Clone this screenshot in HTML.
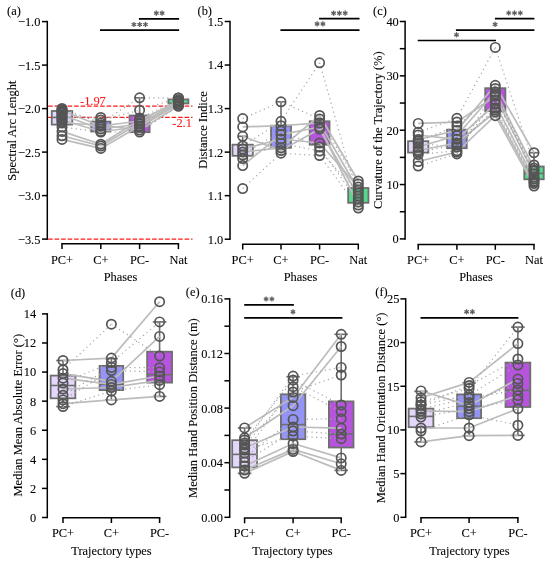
<!DOCTYPE html>
<html><head><meta charset="utf-8"><style>
html,body{margin:0;padding:0;background:#fff;}
svg{display:block;filter:blur(0.3px);}
text{font-family:"Liberation Serif", serif; stroke:#000; stroke-width:0.08px;}
</style></head><body>
<svg width="550" height="564" viewBox="0 0 550 564">
<rect width="550" height="564" fill="#fff"/>
<text x="7.00" y="15.00" font-size="12.4" text-anchor="start" fill="#000" style="stroke:#000" >(a)</text>
<line x1="47.30" y1="20.85" x2="47.30" y2="239.85" stroke="#000" stroke-width="1.5" />
<line x1="42.00" y1="21.60" x2="47.30" y2="21.60" stroke="#000" stroke-width="1.5" />
<text x="40.40" y="26.00" font-size="12.4" text-anchor="end" fill="#000" style="stroke:#000" >−1.0</text>
<line x1="42.00" y1="65.10" x2="47.30" y2="65.10" stroke="#000" stroke-width="1.5" />
<text x="40.40" y="69.50" font-size="12.4" text-anchor="end" fill="#000" style="stroke:#000" >−1.5</text>
<line x1="42.00" y1="108.60" x2="47.30" y2="108.60" stroke="#000" stroke-width="1.5" />
<text x="40.40" y="113.00" font-size="12.4" text-anchor="end" fill="#000" style="stroke:#000" >−2.0</text>
<line x1="42.00" y1="152.10" x2="47.30" y2="152.10" stroke="#000" stroke-width="1.5" />
<text x="40.40" y="156.50" font-size="12.4" text-anchor="end" fill="#000" style="stroke:#000" >−2.5</text>
<line x1="42.00" y1="195.60" x2="47.30" y2="195.60" stroke="#000" stroke-width="1.5" />
<text x="40.40" y="200.00" font-size="12.4" text-anchor="end" fill="#000" style="stroke:#000" >−3.0</text>
<line x1="42.00" y1="239.10" x2="47.30" y2="239.10" stroke="#000" stroke-width="1.5" />
<text x="40.40" y="243.50" font-size="12.4" text-anchor="end" fill="#000" style="stroke:#000" >−3.5</text>
<text transform="translate(16.40,130.60) rotate(-90)" font-size="12.45" text-anchor="middle" fill="#000">Spectral Arc Lenght</text>
<line x1="61.25" y1="243.80" x2="179.15" y2="243.80" stroke="#000" stroke-width="1.5" />
<line x1="62.00" y1="243.80" x2="62.00" y2="249.10" stroke="#000" stroke-width="1.5" />
<text x="62.00" y="263.60" font-size="12.4" text-anchor="middle" fill="#000" style="stroke:#000" >PC+</text>
<line x1="100.80" y1="243.80" x2="100.80" y2="249.10" stroke="#000" stroke-width="1.5" />
<text x="100.80" y="263.60" font-size="12.4" text-anchor="middle" fill="#000" style="stroke:#000" >C+</text>
<line x1="139.60" y1="243.80" x2="139.60" y2="249.10" stroke="#000" stroke-width="1.5" />
<text x="139.60" y="263.60" font-size="12.4" text-anchor="middle" fill="#000" style="stroke:#000" >PC-</text>
<line x1="178.40" y1="243.80" x2="178.40" y2="249.10" stroke="#000" stroke-width="1.5" />
<text x="178.40" y="263.60" font-size="12.4" text-anchor="middle" fill="#000" style="stroke:#000" >Nat</text>
<text x="120.50" y="281.00" font-size="12.4" text-anchor="middle" fill="#000" style="stroke:#000" >Phases</text>
<line x1="48.10" y1="106.00" x2="192.50" y2="106.00" stroke="#ff1818" stroke-width="1.25" stroke-dasharray="4.6 1.9"/>
<line x1="48.10" y1="117.40" x2="192.50" y2="117.40" stroke="#ff1818" stroke-width="1.25" stroke-dasharray="4.6 1.9"/>
<line x1="48.10" y1="239.10" x2="192.50" y2="239.10" stroke="#ff1818" stroke-width="1.25" stroke-dasharray="4.6 1.9"/>
<rect x="51.75" y="111.00" width="20.50" height="13.60" fill="#e4d7fb" stroke="#6e6e6e" stroke-width="1.8"/>
<line x1="51.75" y1="117.40" x2="72.25" y2="117.40" stroke="#6e6e6e" stroke-width="1.6" />
<rect x="91.20" y="121.60" width="19.20" height="9.90" fill="#9494f8" stroke="#6e6e6e" stroke-width="1.8"/>
<line x1="139.60" y1="97.80" x2="139.60" y2="115.50" stroke="#6e6e6e" stroke-width="1.6" />
<line x1="134.60" y1="97.80" x2="144.60" y2="97.80" stroke="#6e6e6e" stroke-width="1.6" />
<rect x="129.60" y="115.50" width="20.00" height="16.70" fill="#b754de" stroke="#6e6e6e" stroke-width="1.8"/>
<rect x="168.40" y="99.40" width="20.00" height="4.10" fill="#55da8c" stroke="#6e6e6e" stroke-width="1.8"/>
<line x1="62.00" y1="108.50" x2="100.80" y2="123.00" stroke="#a6a6a6" stroke-width="1.2" stroke-dasharray="1.2 3.4"/>
<line x1="100.80" y1="123.00" x2="139.60" y2="97.80" stroke="#a6a6a6" stroke-width="1.2" stroke-dasharray="1.2 3.4"/>
<line x1="139.60" y1="97.80" x2="178.40" y2="98.00" stroke="#a6a6a6" stroke-width="1.2" stroke-dasharray="1.2 3.4"/>
<line x1="62.00" y1="110.50" x2="100.80" y2="126.00" stroke="#bcbcbc" stroke-width="1.7" />
<line x1="100.80" y1="126.00" x2="139.60" y2="121.00" stroke="#bcbcbc" stroke-width="1.7" />
<line x1="139.60" y1="121.00" x2="178.40" y2="101.00" stroke="#bcbcbc" stroke-width="1.7" />
<line x1="62.00" y1="112.50" x2="100.80" y2="120.00" stroke="#a6a6a6" stroke-width="1.2" stroke-dasharray="1.2 3.4"/>
<line x1="100.80" y1="120.00" x2="139.60" y2="110.20" stroke="#a6a6a6" stroke-width="1.2" stroke-dasharray="1.2 3.4"/>
<line x1="139.60" y1="110.20" x2="178.40" y2="98.00" stroke="#a6a6a6" stroke-width="1.2" stroke-dasharray="1.2 3.4"/>
<line x1="62.00" y1="115.00" x2="100.80" y2="129.00" stroke="#bcbcbc" stroke-width="1.7" />
<line x1="100.80" y1="129.00" x2="139.60" y2="124.00" stroke="#bcbcbc" stroke-width="1.7" />
<line x1="139.60" y1="124.00" x2="178.40" y2="102.00" stroke="#bcbcbc" stroke-width="1.7" />
<line x1="62.00" y1="117.50" x2="100.80" y2="117.50" stroke="#a6a6a6" stroke-width="1.2" stroke-dasharray="1.2 3.4"/>
<line x1="100.80" y1="117.50" x2="139.60" y2="118.00" stroke="#a6a6a6" stroke-width="1.2" stroke-dasharray="1.2 3.4"/>
<line x1="139.60" y1="118.00" x2="178.40" y2="100.00" stroke="#a6a6a6" stroke-width="1.2" stroke-dasharray="1.2 3.4"/>
<line x1="62.00" y1="120.00" x2="100.80" y2="131.50" stroke="#bcbcbc" stroke-width="1.7" />
<line x1="100.80" y1="131.50" x2="139.60" y2="127.00" stroke="#bcbcbc" stroke-width="1.7" />
<line x1="139.60" y1="127.00" x2="178.40" y2="104.00" stroke="#bcbcbc" stroke-width="1.7" />
<line x1="62.00" y1="123.00" x2="100.80" y2="125.00" stroke="#bcbcbc" stroke-width="1.7" />
<line x1="100.80" y1="125.00" x2="139.60" y2="130.00" stroke="#bcbcbc" stroke-width="1.7" />
<line x1="139.60" y1="130.00" x2="178.40" y2="106.00" stroke="#bcbcbc" stroke-width="1.7" />
<line x1="62.00" y1="127.00" x2="100.80" y2="132.00" stroke="#a6a6a6" stroke-width="1.2" stroke-dasharray="1.2 3.4"/>
<line x1="100.80" y1="132.00" x2="139.60" y2="132.00" stroke="#a6a6a6" stroke-width="1.2" stroke-dasharray="1.2 3.4"/>
<line x1="139.60" y1="132.00" x2="178.40" y2="106.00" stroke="#a6a6a6" stroke-width="1.2" stroke-dasharray="1.2 3.4"/>
<line x1="62.00" y1="131.40" x2="100.80" y2="144.20" stroke="#bcbcbc" stroke-width="1.7" />
<line x1="100.80" y1="144.20" x2="139.60" y2="120.00" stroke="#bcbcbc" stroke-width="1.7" />
<line x1="139.60" y1="120.00" x2="178.40" y2="102.00" stroke="#bcbcbc" stroke-width="1.7" />
<line x1="62.00" y1="135.80" x2="100.80" y2="146.00" stroke="#bcbcbc" stroke-width="1.7" />
<line x1="100.80" y1="146.00" x2="139.60" y2="123.00" stroke="#bcbcbc" stroke-width="1.7" />
<line x1="139.60" y1="123.00" x2="178.40" y2="104.00" stroke="#bcbcbc" stroke-width="1.7" />
<line x1="62.00" y1="139.40" x2="100.80" y2="148.40" stroke="#bcbcbc" stroke-width="1.7" />
<line x1="100.80" y1="148.40" x2="139.60" y2="126.00" stroke="#bcbcbc" stroke-width="1.7" />
<line x1="139.60" y1="126.00" x2="178.40" y2="104.00" stroke="#bcbcbc" stroke-width="1.7" />
<circle cx="62.00" cy="108.50" r="4.65" fill="none" stroke="#555555" stroke-width="1.7"/>
<circle cx="62.00" cy="110.50" r="4.65" fill="none" stroke="#555555" stroke-width="1.7"/>
<circle cx="62.00" cy="112.50" r="4.65" fill="none" stroke="#555555" stroke-width="1.7"/>
<circle cx="62.00" cy="115.00" r="4.65" fill="none" stroke="#555555" stroke-width="1.7"/>
<circle cx="62.00" cy="117.50" r="4.65" fill="none" stroke="#555555" stroke-width="1.7"/>
<circle cx="62.00" cy="120.00" r="4.65" fill="none" stroke="#555555" stroke-width="1.7"/>
<circle cx="62.00" cy="123.00" r="4.65" fill="none" stroke="#555555" stroke-width="1.7"/>
<circle cx="62.00" cy="127.00" r="4.65" fill="none" stroke="#555555" stroke-width="1.7"/>
<circle cx="62.00" cy="131.40" r="4.65" fill="none" stroke="#555555" stroke-width="1.7"/>
<circle cx="62.00" cy="135.80" r="4.65" fill="none" stroke="#555555" stroke-width="1.7"/>
<circle cx="62.00" cy="139.40" r="4.65" fill="none" stroke="#555555" stroke-width="1.7"/>
<circle cx="100.80" cy="123.00" r="4.65" fill="none" stroke="#555555" stroke-width="1.7"/>
<circle cx="100.80" cy="126.00" r="4.65" fill="none" stroke="#555555" stroke-width="1.7"/>
<circle cx="100.80" cy="120.00" r="4.65" fill="none" stroke="#555555" stroke-width="1.7"/>
<circle cx="100.80" cy="129.00" r="4.65" fill="none" stroke="#555555" stroke-width="1.7"/>
<circle cx="100.80" cy="117.50" r="4.65" fill="none" stroke="#555555" stroke-width="1.7"/>
<circle cx="100.80" cy="131.50" r="4.65" fill="none" stroke="#555555" stroke-width="1.7"/>
<circle cx="100.80" cy="125.00" r="4.65" fill="none" stroke="#555555" stroke-width="1.7"/>
<circle cx="100.80" cy="132.00" r="4.65" fill="none" stroke="#555555" stroke-width="1.7"/>
<circle cx="100.80" cy="144.20" r="4.65" fill="none" stroke="#555555" stroke-width="1.7"/>
<circle cx="100.80" cy="146.00" r="4.65" fill="none" stroke="#555555" stroke-width="1.7"/>
<circle cx="100.80" cy="148.40" r="4.65" fill="none" stroke="#555555" stroke-width="1.7"/>
<circle cx="139.60" cy="97.80" r="4.65" fill="none" stroke="#555555" stroke-width="1.7"/>
<circle cx="139.60" cy="121.00" r="4.65" fill="none" stroke="#555555" stroke-width="1.7"/>
<circle cx="139.60" cy="110.20" r="4.65" fill="none" stroke="#555555" stroke-width="1.7"/>
<circle cx="139.60" cy="124.00" r="4.65" fill="none" stroke="#555555" stroke-width="1.7"/>
<circle cx="139.60" cy="118.00" r="4.65" fill="none" stroke="#555555" stroke-width="1.7"/>
<circle cx="139.60" cy="127.00" r="4.65" fill="none" stroke="#555555" stroke-width="1.7"/>
<circle cx="139.60" cy="130.00" r="4.65" fill="none" stroke="#555555" stroke-width="1.7"/>
<circle cx="139.60" cy="132.00" r="4.65" fill="none" stroke="#555555" stroke-width="1.7"/>
<circle cx="139.60" cy="120.00" r="4.65" fill="none" stroke="#555555" stroke-width="1.7"/>
<circle cx="139.60" cy="123.00" r="4.65" fill="none" stroke="#555555" stroke-width="1.7"/>
<circle cx="139.60" cy="126.00" r="4.65" fill="none" stroke="#555555" stroke-width="1.7"/>
<circle cx="178.40" cy="98.00" r="4.65" fill="none" stroke="#555555" stroke-width="1.7"/>
<circle cx="178.40" cy="101.00" r="4.65" fill="none" stroke="#555555" stroke-width="1.7"/>
<circle cx="178.40" cy="98.00" r="4.65" fill="none" stroke="#555555" stroke-width="1.7"/>
<circle cx="178.40" cy="102.00" r="4.65" fill="none" stroke="#555555" stroke-width="1.7"/>
<circle cx="178.40" cy="100.00" r="4.65" fill="none" stroke="#555555" stroke-width="1.7"/>
<circle cx="178.40" cy="104.00" r="4.65" fill="none" stroke="#555555" stroke-width="1.7"/>
<circle cx="178.40" cy="106.00" r="4.65" fill="none" stroke="#555555" stroke-width="1.7"/>
<circle cx="178.40" cy="106.00" r="4.65" fill="none" stroke="#555555" stroke-width="1.7"/>
<circle cx="178.40" cy="102.00" r="4.65" fill="none" stroke="#555555" stroke-width="1.7"/>
<circle cx="178.40" cy="104.00" r="4.65" fill="none" stroke="#555555" stroke-width="1.7"/>
<circle cx="178.40" cy="104.00" r="4.65" fill="none" stroke="#555555" stroke-width="1.7"/>
<circle cx="62.00" cy="109.50" r="4.65" fill="none" stroke="#555555" stroke-width="1.7"/>
<circle cx="62.00" cy="111.50" r="4.65" fill="none" stroke="#555555" stroke-width="1.7"/>
<circle cx="62.00" cy="113.50" r="4.65" fill="none" stroke="#555555" stroke-width="1.7"/>
<circle cx="62.00" cy="116.00" r="4.65" fill="none" stroke="#555555" stroke-width="1.7"/>
<circle cx="62.00" cy="118.50" r="4.65" fill="none" stroke="#555555" stroke-width="1.7"/>
<circle cx="62.00" cy="121.50" r="4.65" fill="none" stroke="#555555" stroke-width="1.7"/>
<text x="80.00" y="105.00" font-size="12.4" text-anchor="start" fill="#ff1818" style="stroke:#ff1818" >-1.97</text>
<text x="172.30" y="126.60" font-size="12.4" text-anchor="start" fill="#ff1818" style="stroke:#ff1818" >-2.1</text>
<line x1="138.90" y1="18.90" x2="179.10" y2="18.90" stroke="#000" stroke-width="1.7" />
<line x1="156.30" y1="10.60" x2="156.30" y2="15.80" stroke="#5e5e5e" stroke-width="1.3" />
<line x1="154.05" y1="11.90" x2="158.55" y2="14.50" stroke="#5e5e5e" stroke-width="1.3" />
<line x1="158.55" y1="11.90" x2="154.05" y2="14.50" stroke="#5e5e5e" stroke-width="1.3" />
<line x1="162.10" y1="10.60" x2="162.10" y2="15.80" stroke="#5e5e5e" stroke-width="1.3" />
<line x1="159.85" y1="11.90" x2="164.35" y2="14.50" stroke="#5e5e5e" stroke-width="1.3" />
<line x1="164.35" y1="11.90" x2="159.85" y2="14.50" stroke="#5e5e5e" stroke-width="1.3" />
<line x1="100.00" y1="30.20" x2="179.10" y2="30.20" stroke="#000" stroke-width="1.7" />
<line x1="133.90" y1="21.90" x2="133.90" y2="27.10" stroke="#5e5e5e" stroke-width="1.3" />
<line x1="131.65" y1="23.20" x2="136.15" y2="25.80" stroke="#5e5e5e" stroke-width="1.3" />
<line x1="136.15" y1="23.20" x2="131.65" y2="25.80" stroke="#5e5e5e" stroke-width="1.3" />
<line x1="139.70" y1="21.90" x2="139.70" y2="27.10" stroke="#5e5e5e" stroke-width="1.3" />
<line x1="137.45" y1="23.20" x2="141.95" y2="25.80" stroke="#5e5e5e" stroke-width="1.3" />
<line x1="141.95" y1="23.20" x2="137.45" y2="25.80" stroke="#5e5e5e" stroke-width="1.3" />
<line x1="145.50" y1="21.90" x2="145.50" y2="27.10" stroke="#5e5e5e" stroke-width="1.3" />
<line x1="143.25" y1="23.20" x2="147.75" y2="25.80" stroke="#5e5e5e" stroke-width="1.3" />
<line x1="147.75" y1="23.20" x2="143.25" y2="25.80" stroke="#5e5e5e" stroke-width="1.3" />
<text x="197.50" y="15.00" font-size="12.4" text-anchor="start" fill="#000" style="stroke:#000" >(b)</text>
<line x1="230.00" y1="20.75" x2="230.00" y2="239.95" stroke="#000" stroke-width="1.5" />
<line x1="224.70" y1="239.20" x2="230.00" y2="239.20" stroke="#000" stroke-width="1.5" />
<text x="223.20" y="243.60" font-size="12.4" text-anchor="end" fill="#000" style="stroke:#000" >1.0</text>
<line x1="224.70" y1="195.66" x2="230.00" y2="195.66" stroke="#000" stroke-width="1.5" />
<text x="223.20" y="200.06" font-size="12.4" text-anchor="end" fill="#000" style="stroke:#000" >1.1</text>
<line x1="224.70" y1="152.12" x2="230.00" y2="152.12" stroke="#000" stroke-width="1.5" />
<text x="223.20" y="156.52" font-size="12.4" text-anchor="end" fill="#000" style="stroke:#000" >1.2</text>
<line x1="224.70" y1="108.58" x2="230.00" y2="108.58" stroke="#000" stroke-width="1.5" />
<text x="223.20" y="112.98" font-size="12.4" text-anchor="end" fill="#000" style="stroke:#000" >1.3</text>
<line x1="224.70" y1="65.04" x2="230.00" y2="65.04" stroke="#000" stroke-width="1.5" />
<text x="223.20" y="69.44" font-size="12.4" text-anchor="end" fill="#000" style="stroke:#000" >1.4</text>
<line x1="224.70" y1="21.50" x2="230.00" y2="21.50" stroke="#000" stroke-width="1.5" />
<text x="223.20" y="25.90" font-size="12.4" text-anchor="end" fill="#000" style="stroke:#000" >1.5</text>
<text transform="translate(206.60,130.00) rotate(-90)" font-size="12.45" text-anchor="middle" fill="#000">Distance Indice</text>
<line x1="241.95" y1="244.30" x2="359.05" y2="244.30" stroke="#000" stroke-width="1.5" />
<line x1="242.70" y1="244.30" x2="242.70" y2="249.60" stroke="#000" stroke-width="1.5" />
<text x="242.70" y="263.60" font-size="12.4" text-anchor="middle" fill="#000" style="stroke:#000" >PC+</text>
<line x1="281.00" y1="244.30" x2="281.00" y2="249.60" stroke="#000" stroke-width="1.5" />
<text x="281.00" y="263.60" font-size="12.4" text-anchor="middle" fill="#000" style="stroke:#000" >C+</text>
<line x1="319.60" y1="244.30" x2="319.60" y2="249.60" stroke="#000" stroke-width="1.5" />
<text x="319.60" y="263.60" font-size="12.4" text-anchor="middle" fill="#000" style="stroke:#000" >PC-</text>
<line x1="358.30" y1="244.30" x2="358.30" y2="249.60" stroke="#000" stroke-width="1.5" />
<text x="358.30" y="263.60" font-size="12.4" text-anchor="middle" fill="#000" style="stroke:#000" >Nat</text>
<text x="300.50" y="281.00" font-size="12.4" text-anchor="middle" fill="#000" style="stroke:#000" >Phases</text>
<line x1="242.70" y1="136.30" x2="242.70" y2="144.70" stroke="#6e6e6e" stroke-width="1.6" />
<line x1="237.70" y1="136.30" x2="247.70" y2="136.30" stroke="#6e6e6e" stroke-width="1.6" />
<rect x="232.50" y="144.70" width="20.40" height="11.10" fill="#e4d7fb" stroke="#6e6e6e" stroke-width="1.8"/>
<line x1="281.00" y1="101.80" x2="281.00" y2="125.70" stroke="#6e6e6e" stroke-width="1.6" />
<line x1="276.00" y1="101.80" x2="286.00" y2="101.80" stroke="#6e6e6e" stroke-width="1.6" />
<rect x="271.00" y="125.70" width="20.00" height="22.10" fill="#9494f8" stroke="#6e6e6e" stroke-width="1.8"/>
<rect x="309.70" y="121.30" width="19.80" height="23.40" fill="#b754de" stroke="#6e6e6e" stroke-width="1.8"/>
<rect x="348.15" y="188.00" width="20.30" height="14.80" fill="#55da8c" stroke="#6e6e6e" stroke-width="1.8"/>
<line x1="242.70" y1="118.60" x2="281.00" y2="101.80" stroke="#a6a6a6" stroke-width="1.2" stroke-dasharray="1.2 3.4"/>
<line x1="281.00" y1="101.80" x2="319.60" y2="119.00" stroke="#a6a6a6" stroke-width="1.2" stroke-dasharray="1.2 3.4"/>
<line x1="319.60" y1="119.00" x2="358.30" y2="184.00" stroke="#a6a6a6" stroke-width="1.2" stroke-dasharray="1.2 3.4"/>
<line x1="242.70" y1="126.90" x2="281.00" y2="125.70" stroke="#bcbcbc" stroke-width="1.7" />
<line x1="281.00" y1="125.70" x2="319.60" y2="123.00" stroke="#bcbcbc" stroke-width="1.7" />
<line x1="319.60" y1="123.00" x2="358.30" y2="190.00" stroke="#bcbcbc" stroke-width="1.7" />
<line x1="242.70" y1="136.30" x2="281.00" y2="150.50" stroke="#bcbcbc" stroke-width="1.7" />
<line x1="281.00" y1="150.50" x2="319.60" y2="129.00" stroke="#bcbcbc" stroke-width="1.7" />
<line x1="319.60" y1="129.00" x2="358.30" y2="196.00" stroke="#bcbcbc" stroke-width="1.7" />
<line x1="242.70" y1="146.00" x2="281.00" y2="121.30" stroke="#a6a6a6" stroke-width="1.2" stroke-dasharray="1.2 3.4"/>
<line x1="281.00" y1="121.30" x2="319.60" y2="62.80" stroke="#a6a6a6" stroke-width="1.2" stroke-dasharray="1.2 3.4"/>
<line x1="319.60" y1="62.80" x2="358.30" y2="199.00" stroke="#a6a6a6" stroke-width="1.2" stroke-dasharray="1.2 3.4"/>
<line x1="242.70" y1="149.00" x2="281.00" y2="139.00" stroke="#bcbcbc" stroke-width="1.7" />
<line x1="281.00" y1="139.00" x2="319.60" y2="143.00" stroke="#bcbcbc" stroke-width="1.7" />
<line x1="319.60" y1="143.00" x2="358.30" y2="187.00" stroke="#bcbcbc" stroke-width="1.7" />
<line x1="242.70" y1="152.00" x2="281.00" y2="147.80" stroke="#bcbcbc" stroke-width="1.7" />
<line x1="281.00" y1="147.80" x2="319.60" y2="115.50" stroke="#bcbcbc" stroke-width="1.7" />
<line x1="319.60" y1="115.50" x2="358.30" y2="181.00" stroke="#bcbcbc" stroke-width="1.7" />
<line x1="242.70" y1="155.00" x2="281.00" y2="131.00" stroke="#a6a6a6" stroke-width="1.2" stroke-dasharray="1.2 3.4"/>
<line x1="281.00" y1="131.00" x2="319.60" y2="147.00" stroke="#a6a6a6" stroke-width="1.2" stroke-dasharray="1.2 3.4"/>
<line x1="319.60" y1="147.00" x2="358.30" y2="202.00" stroke="#a6a6a6" stroke-width="1.2" stroke-dasharray="1.2 3.4"/>
<line x1="242.70" y1="158.50" x2="281.00" y2="143.40" stroke="#a6a6a6" stroke-width="1.2" stroke-dasharray="1.2 3.4"/>
<line x1="281.00" y1="143.40" x2="319.60" y2="151.00" stroke="#a6a6a6" stroke-width="1.2" stroke-dasharray="1.2 3.4"/>
<line x1="319.60" y1="151.00" x2="358.30" y2="193.00" stroke="#a6a6a6" stroke-width="1.2" stroke-dasharray="1.2 3.4"/>
<line x1="242.70" y1="165.60" x2="281.00" y2="134.60" stroke="#bcbcbc" stroke-width="1.7" />
<line x1="281.00" y1="134.60" x2="319.60" y2="127.00" stroke="#bcbcbc" stroke-width="1.7" />
<line x1="319.60" y1="127.00" x2="358.30" y2="205.00" stroke="#bcbcbc" stroke-width="1.7" />
<line x1="242.70" y1="188.60" x2="281.00" y2="153.20" stroke="#a6a6a6" stroke-width="1.2" stroke-dasharray="1.2 3.4"/>
<line x1="281.00" y1="153.20" x2="319.60" y2="155.50" stroke="#a6a6a6" stroke-width="1.2" stroke-dasharray="1.2 3.4"/>
<line x1="319.60" y1="155.50" x2="358.30" y2="208.00" stroke="#a6a6a6" stroke-width="1.2" stroke-dasharray="1.2 3.4"/>
<circle cx="242.70" cy="118.60" r="4.65" fill="none" stroke="#555555" stroke-width="1.7"/>
<circle cx="242.70" cy="126.90" r="4.65" fill="none" stroke="#555555" stroke-width="1.7"/>
<circle cx="242.70" cy="136.30" r="4.65" fill="none" stroke="#555555" stroke-width="1.7"/>
<circle cx="242.70" cy="146.00" r="4.65" fill="none" stroke="#555555" stroke-width="1.7"/>
<circle cx="242.70" cy="149.00" r="4.65" fill="none" stroke="#555555" stroke-width="1.7"/>
<circle cx="242.70" cy="152.00" r="4.65" fill="none" stroke="#555555" stroke-width="1.7"/>
<circle cx="242.70" cy="155.00" r="4.65" fill="none" stroke="#555555" stroke-width="1.7"/>
<circle cx="242.70" cy="158.50" r="4.65" fill="none" stroke="#555555" stroke-width="1.7"/>
<circle cx="242.70" cy="165.60" r="4.65" fill="none" stroke="#555555" stroke-width="1.7"/>
<circle cx="242.70" cy="188.60" r="4.65" fill="none" stroke="#555555" stroke-width="1.7"/>
<circle cx="281.00" cy="101.80" r="4.65" fill="none" stroke="#555555" stroke-width="1.7"/>
<circle cx="281.00" cy="125.70" r="4.65" fill="none" stroke="#555555" stroke-width="1.7"/>
<circle cx="281.00" cy="150.50" r="4.65" fill="none" stroke="#555555" stroke-width="1.7"/>
<circle cx="281.00" cy="121.30" r="4.65" fill="none" stroke="#555555" stroke-width="1.7"/>
<circle cx="281.00" cy="139.00" r="4.65" fill="none" stroke="#555555" stroke-width="1.7"/>
<circle cx="281.00" cy="147.80" r="4.65" fill="none" stroke="#555555" stroke-width="1.7"/>
<circle cx="281.00" cy="131.00" r="4.65" fill="none" stroke="#555555" stroke-width="1.7"/>
<circle cx="281.00" cy="143.40" r="4.65" fill="none" stroke="#555555" stroke-width="1.7"/>
<circle cx="281.00" cy="134.60" r="4.65" fill="none" stroke="#555555" stroke-width="1.7"/>
<circle cx="281.00" cy="153.20" r="4.65" fill="none" stroke="#555555" stroke-width="1.7"/>
<circle cx="319.60" cy="119.00" r="4.65" fill="none" stroke="#555555" stroke-width="1.7"/>
<circle cx="319.60" cy="123.00" r="4.65" fill="none" stroke="#555555" stroke-width="1.7"/>
<circle cx="319.60" cy="129.00" r="4.65" fill="none" stroke="#555555" stroke-width="1.7"/>
<circle cx="319.60" cy="62.80" r="4.65" fill="none" stroke="#555555" stroke-width="1.7"/>
<circle cx="319.60" cy="143.00" r="4.65" fill="none" stroke="#555555" stroke-width="1.7"/>
<circle cx="319.60" cy="115.50" r="4.65" fill="none" stroke="#555555" stroke-width="1.7"/>
<circle cx="319.60" cy="147.00" r="4.65" fill="none" stroke="#555555" stroke-width="1.7"/>
<circle cx="319.60" cy="151.00" r="4.65" fill="none" stroke="#555555" stroke-width="1.7"/>
<circle cx="319.60" cy="127.00" r="4.65" fill="none" stroke="#555555" stroke-width="1.7"/>
<circle cx="319.60" cy="155.50" r="4.65" fill="none" stroke="#555555" stroke-width="1.7"/>
<circle cx="358.30" cy="184.00" r="4.65" fill="none" stroke="#555555" stroke-width="1.7"/>
<circle cx="358.30" cy="190.00" r="4.65" fill="none" stroke="#555555" stroke-width="1.7"/>
<circle cx="358.30" cy="196.00" r="4.65" fill="none" stroke="#555555" stroke-width="1.7"/>
<circle cx="358.30" cy="199.00" r="4.65" fill="none" stroke="#555555" stroke-width="1.7"/>
<circle cx="358.30" cy="187.00" r="4.65" fill="none" stroke="#555555" stroke-width="1.7"/>
<circle cx="358.30" cy="181.00" r="4.65" fill="none" stroke="#555555" stroke-width="1.7"/>
<circle cx="358.30" cy="202.00" r="4.65" fill="none" stroke="#555555" stroke-width="1.7"/>
<circle cx="358.30" cy="193.00" r="4.65" fill="none" stroke="#555555" stroke-width="1.7"/>
<circle cx="358.30" cy="205.00" r="4.65" fill="none" stroke="#555555" stroke-width="1.7"/>
<circle cx="358.30" cy="208.00" r="4.65" fill="none" stroke="#555555" stroke-width="1.7"/>
<line x1="319.10" y1="18.60" x2="359.50" y2="18.60" stroke="#000" stroke-width="1.7" />
<line x1="333.60" y1="10.60" x2="333.60" y2="15.80" stroke="#5e5e5e" stroke-width="1.3" />
<line x1="331.35" y1="11.90" x2="335.85" y2="14.50" stroke="#5e5e5e" stroke-width="1.3" />
<line x1="335.85" y1="11.90" x2="331.35" y2="14.50" stroke="#5e5e5e" stroke-width="1.3" />
<line x1="339.40" y1="10.60" x2="339.40" y2="15.80" stroke="#5e5e5e" stroke-width="1.3" />
<line x1="337.15" y1="11.90" x2="341.65" y2="14.50" stroke="#5e5e5e" stroke-width="1.3" />
<line x1="341.65" y1="11.90" x2="337.15" y2="14.50" stroke="#5e5e5e" stroke-width="1.3" />
<line x1="345.20" y1="10.60" x2="345.20" y2="15.80" stroke="#5e5e5e" stroke-width="1.3" />
<line x1="342.95" y1="11.90" x2="347.45" y2="14.50" stroke="#5e5e5e" stroke-width="1.3" />
<line x1="347.45" y1="11.90" x2="342.95" y2="14.50" stroke="#5e5e5e" stroke-width="1.3" />
<line x1="280.40" y1="30.10" x2="359.50" y2="30.10" stroke="#000" stroke-width="1.7" />
<line x1="317.10" y1="21.30" x2="317.10" y2="26.50" stroke="#5e5e5e" stroke-width="1.3" />
<line x1="314.85" y1="22.60" x2="319.35" y2="25.20" stroke="#5e5e5e" stroke-width="1.3" />
<line x1="319.35" y1="22.60" x2="314.85" y2="25.20" stroke="#5e5e5e" stroke-width="1.3" />
<line x1="322.90" y1="21.30" x2="322.90" y2="26.50" stroke="#5e5e5e" stroke-width="1.3" />
<line x1="320.65" y1="22.60" x2="325.15" y2="25.20" stroke="#5e5e5e" stroke-width="1.3" />
<line x1="325.15" y1="22.60" x2="320.65" y2="25.20" stroke="#5e5e5e" stroke-width="1.3" />
<text x="373.00" y="15.00" font-size="12.4" text-anchor="start" fill="#000" style="stroke:#000" >(c)</text>
<line x1="405.10" y1="20.75" x2="405.10" y2="239.65" stroke="#000" stroke-width="1.5" />
<line x1="399.80" y1="238.90" x2="405.10" y2="238.90" stroke="#000" stroke-width="1.5" />
<text x="398.80" y="243.30" font-size="12.4" text-anchor="end" fill="#000" style="stroke:#000" >0</text>
<line x1="399.80" y1="184.55" x2="405.10" y2="184.55" stroke="#000" stroke-width="1.5" />
<text x="398.80" y="188.95" font-size="12.4" text-anchor="end" fill="#000" style="stroke:#000" >10</text>
<line x1="399.80" y1="130.20" x2="405.10" y2="130.20" stroke="#000" stroke-width="1.5" />
<text x="398.80" y="134.60" font-size="12.4" text-anchor="end" fill="#000" style="stroke:#000" >20</text>
<line x1="399.80" y1="75.85" x2="405.10" y2="75.85" stroke="#000" stroke-width="1.5" />
<text x="398.80" y="80.25" font-size="12.4" text-anchor="end" fill="#000" style="stroke:#000" >30</text>
<line x1="399.80" y1="21.50" x2="405.10" y2="21.50" stroke="#000" stroke-width="1.5" />
<text x="398.80" y="25.90" font-size="12.4" text-anchor="end" fill="#000" style="stroke:#000" >40</text>
<line x1="399.80" y1="211.72" x2="405.10" y2="211.72" stroke="#000" stroke-width="1.5" />
<line x1="399.80" y1="157.38" x2="405.10" y2="157.38" stroke="#000" stroke-width="1.5" />
<line x1="399.80" y1="103.03" x2="405.10" y2="103.03" stroke="#000" stroke-width="1.5" />
<line x1="399.80" y1="48.68" x2="405.10" y2="48.68" stroke="#000" stroke-width="1.5" />
<text transform="translate(382.00,130.20) rotate(-90)" font-size="12.45" text-anchor="middle" fill="#000">Curvature of the Trajectory (%)</text>
<line x1="417.45" y1="244.50" x2="534.75" y2="244.50" stroke="#000" stroke-width="1.5" />
<line x1="418.20" y1="244.50" x2="418.20" y2="249.80" stroke="#000" stroke-width="1.5" />
<text x="418.20" y="263.60" font-size="12.4" text-anchor="middle" fill="#000" style="stroke:#000" >PC+</text>
<line x1="456.90" y1="244.50" x2="456.90" y2="249.80" stroke="#000" stroke-width="1.5" />
<text x="456.90" y="263.60" font-size="12.4" text-anchor="middle" fill="#000" style="stroke:#000" >C+</text>
<line x1="495.30" y1="244.50" x2="495.30" y2="249.80" stroke="#000" stroke-width="1.5" />
<text x="495.30" y="263.60" font-size="12.4" text-anchor="middle" fill="#000" style="stroke:#000" >PC-</text>
<line x1="534.00" y1="244.50" x2="534.00" y2="249.80" stroke="#000" stroke-width="1.5" />
<text x="534.00" y="263.60" font-size="12.4" text-anchor="middle" fill="#000" style="stroke:#000" >Nat</text>
<text x="476.00" y="281.00" font-size="12.4" text-anchor="middle" fill="#000" style="stroke:#000" >Phases</text>
<rect x="408.05" y="141.20" width="20.30" height="11.40" fill="#e4d7fb" stroke="#6e6e6e" stroke-width="1.8"/>
<rect x="447.05" y="129.70" width="19.70" height="18.50" fill="#9494f8" stroke="#6e6e6e" stroke-width="1.8"/>
<rect x="485.20" y="88.20" width="20.20" height="23.00" fill="#b754de" stroke="#6e6e6e" stroke-width="1.8"/>
<line x1="534.00" y1="152.70" x2="534.00" y2="166.50" stroke="#6e6e6e" stroke-width="1.6" />
<line x1="529.00" y1="152.70" x2="539.00" y2="152.70" stroke="#6e6e6e" stroke-width="1.6" />
<rect x="524.25" y="166.50" width="19.50" height="12.80" fill="#55da8c" stroke="#6e6e6e" stroke-width="1.8"/>
<line x1="524.25" y1="173.40" x2="543.75" y2="173.40" stroke="#6e6e6e" stroke-width="1.6" />
<line x1="418.20" y1="123.40" x2="456.90" y2="122.10" stroke="#bcbcbc" stroke-width="1.7" />
<line x1="456.90" y1="122.10" x2="495.30" y2="96.00" stroke="#bcbcbc" stroke-width="1.7" />
<line x1="495.30" y1="96.00" x2="534.00" y2="174.00" stroke="#bcbcbc" stroke-width="1.7" />
<line x1="418.20" y1="132.30" x2="456.90" y2="118.30" stroke="#a6a6a6" stroke-width="1.2" stroke-dasharray="1.2 3.4"/>
<line x1="456.90" y1="118.30" x2="495.30" y2="47.40" stroke="#a6a6a6" stroke-width="1.2" stroke-dasharray="1.2 3.4"/>
<line x1="495.30" y1="47.40" x2="534.00" y2="165.00" stroke="#a6a6a6" stroke-width="1.2" stroke-dasharray="1.2 3.4"/>
<line x1="418.20" y1="135.00" x2="456.90" y2="139.30" stroke="#bcbcbc" stroke-width="1.7" />
<line x1="456.90" y1="139.30" x2="495.30" y2="104.00" stroke="#bcbcbc" stroke-width="1.7" />
<line x1="495.30" y1="104.00" x2="534.00" y2="179.00" stroke="#bcbcbc" stroke-width="1.7" />
<line x1="418.20" y1="139.50" x2="456.90" y2="130.40" stroke="#bcbcbc" stroke-width="1.7" />
<line x1="456.90" y1="130.40" x2="495.30" y2="85.30" stroke="#bcbcbc" stroke-width="1.7" />
<line x1="495.30" y1="85.30" x2="534.00" y2="152.70" stroke="#bcbcbc" stroke-width="1.7" />
<line x1="418.20" y1="143.50" x2="456.90" y2="147.00" stroke="#a6a6a6" stroke-width="1.2" stroke-dasharray="1.2 3.4"/>
<line x1="456.90" y1="147.00" x2="495.30" y2="108.00" stroke="#a6a6a6" stroke-width="1.2" stroke-dasharray="1.2 3.4"/>
<line x1="495.30" y1="108.00" x2="534.00" y2="181.00" stroke="#a6a6a6" stroke-width="1.2" stroke-dasharray="1.2 3.4"/>
<line x1="418.20" y1="147.00" x2="456.90" y2="135.50" stroke="#bcbcbc" stroke-width="1.7" />
<line x1="456.90" y1="135.50" x2="495.30" y2="92.00" stroke="#bcbcbc" stroke-width="1.7" />
<line x1="495.30" y1="92.00" x2="534.00" y2="168.00" stroke="#bcbcbc" stroke-width="1.7" />
<line x1="418.20" y1="150.50" x2="456.90" y2="143.00" stroke="#bcbcbc" stroke-width="1.7" />
<line x1="456.90" y1="143.00" x2="495.30" y2="112.00" stroke="#bcbcbc" stroke-width="1.7" />
<line x1="495.30" y1="112.00" x2="534.00" y2="183.50" stroke="#bcbcbc" stroke-width="1.7" />
<line x1="418.20" y1="154.50" x2="456.90" y2="150.70" stroke="#a6a6a6" stroke-width="1.2" stroke-dasharray="1.2 3.4"/>
<line x1="456.90" y1="150.70" x2="495.30" y2="100.00" stroke="#a6a6a6" stroke-width="1.2" stroke-dasharray="1.2 3.4"/>
<line x1="495.30" y1="100.00" x2="534.00" y2="171.00" stroke="#a6a6a6" stroke-width="1.2" stroke-dasharray="1.2 3.4"/>
<line x1="418.20" y1="161.50" x2="456.90" y2="152.00" stroke="#bcbcbc" stroke-width="1.7" />
<line x1="456.90" y1="152.00" x2="495.30" y2="115.70" stroke="#bcbcbc" stroke-width="1.7" />
<line x1="495.30" y1="115.70" x2="534.00" y2="186.00" stroke="#bcbcbc" stroke-width="1.7" />
<line x1="418.20" y1="166.00" x2="456.90" y2="153.90" stroke="#a6a6a6" stroke-width="1.2" stroke-dasharray="1.2 3.4"/>
<line x1="456.90" y1="153.90" x2="495.30" y2="88.50" stroke="#a6a6a6" stroke-width="1.2" stroke-dasharray="1.2 3.4"/>
<line x1="495.30" y1="88.50" x2="534.00" y2="177.00" stroke="#a6a6a6" stroke-width="1.2" stroke-dasharray="1.2 3.4"/>
<line x1="418.20" y1="141.00" x2="456.90" y2="126.00" stroke="#a6a6a6" stroke-width="1.2" stroke-dasharray="1.2 3.4"/>
<line x1="456.90" y1="126.00" x2="495.30" y2="94.00" stroke="#a6a6a6" stroke-width="1.2" stroke-dasharray="1.2 3.4"/>
<line x1="495.30" y1="94.00" x2="534.00" y2="170.00" stroke="#a6a6a6" stroke-width="1.2" stroke-dasharray="1.2 3.4"/>
<line x1="418.20" y1="152.00" x2="456.90" y2="145.00" stroke="#a6a6a6" stroke-width="1.2" stroke-dasharray="1.2 3.4"/>
<line x1="456.90" y1="145.00" x2="495.30" y2="110.00" stroke="#a6a6a6" stroke-width="1.2" stroke-dasharray="1.2 3.4"/>
<line x1="495.30" y1="110.00" x2="534.00" y2="182.00" stroke="#a6a6a6" stroke-width="1.2" stroke-dasharray="1.2 3.4"/>
<circle cx="418.20" cy="123.40" r="4.65" fill="none" stroke="#555555" stroke-width="1.7"/>
<circle cx="418.20" cy="132.30" r="4.65" fill="none" stroke="#555555" stroke-width="1.7"/>
<circle cx="418.20" cy="135.00" r="4.65" fill="none" stroke="#555555" stroke-width="1.7"/>
<circle cx="418.20" cy="139.50" r="4.65" fill="none" stroke="#555555" stroke-width="1.7"/>
<circle cx="418.20" cy="143.50" r="4.65" fill="none" stroke="#555555" stroke-width="1.7"/>
<circle cx="418.20" cy="147.00" r="4.65" fill="none" stroke="#555555" stroke-width="1.7"/>
<circle cx="418.20" cy="150.50" r="4.65" fill="none" stroke="#555555" stroke-width="1.7"/>
<circle cx="418.20" cy="154.50" r="4.65" fill="none" stroke="#555555" stroke-width="1.7"/>
<circle cx="418.20" cy="161.50" r="4.65" fill="none" stroke="#555555" stroke-width="1.7"/>
<circle cx="418.20" cy="166.00" r="4.65" fill="none" stroke="#555555" stroke-width="1.7"/>
<circle cx="418.20" cy="141.00" r="4.65" fill="none" stroke="#555555" stroke-width="1.7"/>
<circle cx="418.20" cy="152.00" r="4.65" fill="none" stroke="#555555" stroke-width="1.7"/>
<circle cx="456.90" cy="122.10" r="4.65" fill="none" stroke="#555555" stroke-width="1.7"/>
<circle cx="456.90" cy="118.30" r="4.65" fill="none" stroke="#555555" stroke-width="1.7"/>
<circle cx="456.90" cy="139.30" r="4.65" fill="none" stroke="#555555" stroke-width="1.7"/>
<circle cx="456.90" cy="130.40" r="4.65" fill="none" stroke="#555555" stroke-width="1.7"/>
<circle cx="456.90" cy="147.00" r="4.65" fill="none" stroke="#555555" stroke-width="1.7"/>
<circle cx="456.90" cy="135.50" r="4.65" fill="none" stroke="#555555" stroke-width="1.7"/>
<circle cx="456.90" cy="143.00" r="4.65" fill="none" stroke="#555555" stroke-width="1.7"/>
<circle cx="456.90" cy="150.70" r="4.65" fill="none" stroke="#555555" stroke-width="1.7"/>
<circle cx="456.90" cy="152.00" r="4.65" fill="none" stroke="#555555" stroke-width="1.7"/>
<circle cx="456.90" cy="153.90" r="4.65" fill="none" stroke="#555555" stroke-width="1.7"/>
<circle cx="456.90" cy="126.00" r="4.65" fill="none" stroke="#555555" stroke-width="1.7"/>
<circle cx="456.90" cy="145.00" r="4.65" fill="none" stroke="#555555" stroke-width="1.7"/>
<circle cx="495.30" cy="96.00" r="4.65" fill="none" stroke="#555555" stroke-width="1.7"/>
<circle cx="495.30" cy="47.40" r="4.65" fill="none" stroke="#555555" stroke-width="1.7"/>
<circle cx="495.30" cy="104.00" r="4.65" fill="none" stroke="#555555" stroke-width="1.7"/>
<circle cx="495.30" cy="85.30" r="4.65" fill="none" stroke="#555555" stroke-width="1.7"/>
<circle cx="495.30" cy="108.00" r="4.65" fill="none" stroke="#555555" stroke-width="1.7"/>
<circle cx="495.30" cy="92.00" r="4.65" fill="none" stroke="#555555" stroke-width="1.7"/>
<circle cx="495.30" cy="112.00" r="4.65" fill="none" stroke="#555555" stroke-width="1.7"/>
<circle cx="495.30" cy="100.00" r="4.65" fill="none" stroke="#555555" stroke-width="1.7"/>
<circle cx="495.30" cy="115.70" r="4.65" fill="none" stroke="#555555" stroke-width="1.7"/>
<circle cx="495.30" cy="88.50" r="4.65" fill="none" stroke="#555555" stroke-width="1.7"/>
<circle cx="495.30" cy="94.00" r="4.65" fill="none" stroke="#555555" stroke-width="1.7"/>
<circle cx="495.30" cy="110.00" r="4.65" fill="none" stroke="#555555" stroke-width="1.7"/>
<circle cx="534.00" cy="174.00" r="4.65" fill="none" stroke="#555555" stroke-width="1.7"/>
<circle cx="534.00" cy="165.00" r="4.65" fill="none" stroke="#555555" stroke-width="1.7"/>
<circle cx="534.00" cy="179.00" r="4.65" fill="none" stroke="#555555" stroke-width="1.7"/>
<circle cx="534.00" cy="152.70" r="4.65" fill="none" stroke="#555555" stroke-width="1.7"/>
<circle cx="534.00" cy="181.00" r="4.65" fill="none" stroke="#555555" stroke-width="1.7"/>
<circle cx="534.00" cy="168.00" r="4.65" fill="none" stroke="#555555" stroke-width="1.7"/>
<circle cx="534.00" cy="183.50" r="4.65" fill="none" stroke="#555555" stroke-width="1.7"/>
<circle cx="534.00" cy="171.00" r="4.65" fill="none" stroke="#555555" stroke-width="1.7"/>
<circle cx="534.00" cy="186.00" r="4.65" fill="none" stroke="#555555" stroke-width="1.7"/>
<circle cx="534.00" cy="177.00" r="4.65" fill="none" stroke="#555555" stroke-width="1.7"/>
<circle cx="534.00" cy="170.00" r="4.65" fill="none" stroke="#555555" stroke-width="1.7"/>
<circle cx="534.00" cy="182.00" r="4.65" fill="none" stroke="#555555" stroke-width="1.7"/>
<line x1="494.90" y1="18.60" x2="534.40" y2="18.60" stroke="#000" stroke-width="1.7" />
<line x1="508.70" y1="10.40" x2="508.70" y2="15.60" stroke="#5e5e5e" stroke-width="1.3" />
<line x1="506.45" y1="11.70" x2="510.95" y2="14.30" stroke="#5e5e5e" stroke-width="1.3" />
<line x1="510.95" y1="11.70" x2="506.45" y2="14.30" stroke="#5e5e5e" stroke-width="1.3" />
<line x1="514.50" y1="10.40" x2="514.50" y2="15.60" stroke="#5e5e5e" stroke-width="1.3" />
<line x1="512.25" y1="11.70" x2="516.75" y2="14.30" stroke="#5e5e5e" stroke-width="1.3" />
<line x1="516.75" y1="11.70" x2="512.25" y2="14.30" stroke="#5e5e5e" stroke-width="1.3" />
<line x1="520.30" y1="10.40" x2="520.30" y2="15.60" stroke="#5e5e5e" stroke-width="1.3" />
<line x1="518.05" y1="11.70" x2="522.55" y2="14.30" stroke="#5e5e5e" stroke-width="1.3" />
<line x1="522.55" y1="11.70" x2="518.05" y2="14.30" stroke="#5e5e5e" stroke-width="1.3" />
<line x1="455.90" y1="30.10" x2="534.40" y2="30.10" stroke="#000" stroke-width="1.7" />
<line x1="495.10" y1="21.80" x2="495.10" y2="27.00" stroke="#5e5e5e" stroke-width="1.3" />
<line x1="492.85" y1="23.10" x2="497.35" y2="25.70" stroke="#5e5e5e" stroke-width="1.3" />
<line x1="497.35" y1="23.10" x2="492.85" y2="25.70" stroke="#5e5e5e" stroke-width="1.3" />
<line x1="417.70" y1="40.50" x2="496.00" y2="40.50" stroke="#000" stroke-width="1.7" />
<line x1="456.50" y1="32.20" x2="456.50" y2="37.40" stroke="#5e5e5e" stroke-width="1.3" />
<line x1="454.25" y1="33.50" x2="458.75" y2="36.10" stroke="#5e5e5e" stroke-width="1.3" />
<line x1="458.75" y1="33.50" x2="454.25" y2="36.10" stroke="#5e5e5e" stroke-width="1.3" />
<text x="10.80" y="296.50" font-size="12.4" text-anchor="start" fill="#000" style="stroke:#000" >(d)</text>
<line x1="47.30" y1="313.15" x2="47.30" y2="518.25" stroke="#000" stroke-width="1.5" />
<line x1="42.00" y1="517.50" x2="47.30" y2="517.50" stroke="#000" stroke-width="1.5" />
<text x="36.20" y="521.90" font-size="12.4" text-anchor="end" fill="#000" style="stroke:#000" >0</text>
<line x1="42.00" y1="488.41" x2="47.30" y2="488.41" stroke="#000" stroke-width="1.5" />
<text x="36.20" y="492.81" font-size="12.4" text-anchor="end" fill="#000" style="stroke:#000" >2</text>
<line x1="42.00" y1="459.33" x2="47.30" y2="459.33" stroke="#000" stroke-width="1.5" />
<text x="36.20" y="463.73" font-size="12.4" text-anchor="end" fill="#000" style="stroke:#000" >4</text>
<line x1="42.00" y1="430.24" x2="47.30" y2="430.24" stroke="#000" stroke-width="1.5" />
<text x="36.20" y="434.64" font-size="12.4" text-anchor="end" fill="#000" style="stroke:#000" >6</text>
<line x1="42.00" y1="401.16" x2="47.30" y2="401.16" stroke="#000" stroke-width="1.5" />
<text x="36.20" y="405.56" font-size="12.4" text-anchor="end" fill="#000" style="stroke:#000" >8</text>
<line x1="42.00" y1="372.07" x2="47.30" y2="372.07" stroke="#000" stroke-width="1.5" />
<text x="36.20" y="376.47" font-size="12.4" text-anchor="end" fill="#000" style="stroke:#000" >10</text>
<line x1="42.00" y1="342.99" x2="47.30" y2="342.99" stroke="#000" stroke-width="1.5" />
<text x="36.20" y="347.39" font-size="12.4" text-anchor="end" fill="#000" style="stroke:#000" >12</text>
<line x1="42.00" y1="313.90" x2="47.30" y2="313.90" stroke="#000" stroke-width="1.5" />
<text x="36.20" y="318.30" font-size="12.4" text-anchor="end" fill="#000" style="stroke:#000" >14</text>
<text transform="translate(22.40,415.20) rotate(-90)" font-size="12.45" text-anchor="middle" fill="#000">Median Mean Absolute Error (°)</text>
<line x1="62.25" y1="517.70" x2="160.35" y2="517.70" stroke="#000" stroke-width="1.5" />
<line x1="63.00" y1="517.70" x2="63.00" y2="523.00" stroke="#000" stroke-width="1.5" />
<text x="63.00" y="537.00" font-size="12.4" text-anchor="middle" fill="#000" style="stroke:#000" >PC+</text>
<line x1="111.40" y1="517.70" x2="111.40" y2="523.00" stroke="#000" stroke-width="1.5" />
<text x="111.40" y="537.00" font-size="12.4" text-anchor="middle" fill="#000" style="stroke:#000" >C+</text>
<line x1="159.60" y1="517.70" x2="159.60" y2="523.00" stroke="#000" stroke-width="1.5" />
<text x="159.60" y="537.00" font-size="12.4" text-anchor="middle" fill="#000" style="stroke:#000" >PC-</text>
<text x="111.50" y="555.40" font-size="12.4" text-anchor="middle" fill="#000" style="stroke:#000" >Trajectory types</text>
<line x1="63.00" y1="360.50" x2="63.00" y2="375.60" stroke="#6e6e6e" stroke-width="1.6" />
<line x1="56.21" y1="360.50" x2="69.79" y2="360.50" stroke="#6e6e6e" stroke-width="1.6" />
<line x1="63.00" y1="398.30" x2="63.00" y2="406.60" stroke="#6e6e6e" stroke-width="1.6" />
<line x1="56.21" y1="406.60" x2="69.79" y2="406.60" stroke="#6e6e6e" stroke-width="1.6" />
<rect x="50.65" y="375.60" width="24.70" height="22.70" fill="#e4d7fb" stroke="#6e6e6e" stroke-width="1.8"/>
<line x1="50.65" y1="385.50" x2="75.35" y2="385.50" stroke="#6e6e6e" stroke-width="1.6" />
<line x1="111.40" y1="358.60" x2="111.40" y2="365.90" stroke="#6e6e6e" stroke-width="1.6" />
<line x1="104.91" y1="358.60" x2="117.89" y2="358.60" stroke="#6e6e6e" stroke-width="1.6" />
<line x1="111.40" y1="390.10" x2="111.40" y2="399.90" stroke="#6e6e6e" stroke-width="1.6" />
<line x1="104.91" y1="399.90" x2="117.89" y2="399.90" stroke="#6e6e6e" stroke-width="1.6" />
<rect x="99.60" y="365.90" width="23.60" height="24.20" fill="#9494f8" stroke="#6e6e6e" stroke-width="1.8"/>
<line x1="99.60" y1="384.40" x2="123.20" y2="384.40" stroke="#6e6e6e" stroke-width="1.6" />
<line x1="159.60" y1="321.90" x2="159.60" y2="351.70" stroke="#6e6e6e" stroke-width="1.6" />
<line x1="152.75" y1="321.90" x2="166.45" y2="321.90" stroke="#6e6e6e" stroke-width="1.6" />
<line x1="159.60" y1="382.60" x2="159.60" y2="396.40" stroke="#6e6e6e" stroke-width="1.6" />
<line x1="152.75" y1="396.40" x2="166.45" y2="396.40" stroke="#6e6e6e" stroke-width="1.6" />
<rect x="147.15" y="351.70" width="24.90" height="30.90" fill="#b754de" stroke="#6e6e6e" stroke-width="1.8"/>
<line x1="147.15" y1="374.70" x2="172.05" y2="374.70" stroke="#6e6e6e" stroke-width="1.6" />
<line x1="63.00" y1="360.50" x2="111.40" y2="358.10" stroke="#bcbcbc" stroke-width="1.7" />
<line x1="111.40" y1="358.10" x2="159.60" y2="301.70" stroke="#bcbcbc" stroke-width="1.7" />
<line x1="63.00" y1="373.60" x2="111.40" y2="381.30" stroke="#bcbcbc" stroke-width="1.7" />
<line x1="111.40" y1="381.30" x2="159.60" y2="336.40" stroke="#bcbcbc" stroke-width="1.7" />
<line x1="63.00" y1="378.20" x2="111.40" y2="384.40" stroke="#bcbcbc" stroke-width="1.7" />
<line x1="111.40" y1="384.40" x2="159.60" y2="376.00" stroke="#bcbcbc" stroke-width="1.7" />
<line x1="63.00" y1="389.00" x2="111.40" y2="387.50" stroke="#bcbcbc" stroke-width="1.7" />
<line x1="111.40" y1="387.50" x2="159.60" y2="380.40" stroke="#bcbcbc" stroke-width="1.7" />
<line x1="63.00" y1="403.70" x2="111.40" y2="399.90" stroke="#bcbcbc" stroke-width="1.7" />
<line x1="111.40" y1="399.90" x2="159.60" y2="396.40" stroke="#bcbcbc" stroke-width="1.7" />
<line x1="63.00" y1="369.70" x2="111.40" y2="324.20" stroke="#a6a6a6" stroke-width="1.2" stroke-dasharray="1.2 3.4"/>
<line x1="111.40" y1="324.20" x2="159.60" y2="356.00" stroke="#a6a6a6" stroke-width="1.2" stroke-dasharray="1.2 3.4"/>
<line x1="63.00" y1="383.00" x2="111.40" y2="362.50" stroke="#a6a6a6" stroke-width="1.2" stroke-dasharray="1.2 3.4"/>
<line x1="111.40" y1="362.50" x2="159.60" y2="321.90" stroke="#a6a6a6" stroke-width="1.2" stroke-dasharray="1.2 3.4"/>
<line x1="63.00" y1="395.20" x2="111.40" y2="367.40" stroke="#a6a6a6" stroke-width="1.2" stroke-dasharray="1.2 3.4"/>
<line x1="111.40" y1="367.40" x2="159.60" y2="367.70" stroke="#a6a6a6" stroke-width="1.2" stroke-dasharray="1.2 3.4"/>
<line x1="63.00" y1="399.90" x2="111.40" y2="370.50" stroke="#a6a6a6" stroke-width="1.2" stroke-dasharray="1.2 3.4"/>
<line x1="111.40" y1="370.50" x2="159.60" y2="371.90" stroke="#a6a6a6" stroke-width="1.2" stroke-dasharray="1.2 3.4"/>
<line x1="63.00" y1="406.50" x2="111.40" y2="391.00" stroke="#a6a6a6" stroke-width="1.2" stroke-dasharray="1.2 3.4"/>
<line x1="111.40" y1="391.00" x2="159.60" y2="384.70" stroke="#a6a6a6" stroke-width="1.2" stroke-dasharray="1.2 3.4"/>
<circle cx="63.00" cy="360.50" r="4.65" fill="none" stroke="#555555" stroke-width="1.7"/>
<circle cx="63.00" cy="373.60" r="4.65" fill="none" stroke="#555555" stroke-width="1.7"/>
<circle cx="63.00" cy="378.20" r="4.65" fill="none" stroke="#555555" stroke-width="1.7"/>
<circle cx="63.00" cy="389.00" r="4.65" fill="none" stroke="#555555" stroke-width="1.7"/>
<circle cx="63.00" cy="403.70" r="4.65" fill="none" stroke="#555555" stroke-width="1.7"/>
<circle cx="63.00" cy="369.70" r="4.65" fill="none" stroke="#555555" stroke-width="1.7"/>
<circle cx="63.00" cy="383.00" r="4.65" fill="none" stroke="#555555" stroke-width="1.7"/>
<circle cx="63.00" cy="395.20" r="4.65" fill="none" stroke="#555555" stroke-width="1.7"/>
<circle cx="63.00" cy="399.90" r="4.65" fill="none" stroke="#555555" stroke-width="1.7"/>
<circle cx="63.00" cy="406.50" r="4.65" fill="none" stroke="#555555" stroke-width="1.7"/>
<circle cx="111.40" cy="358.10" r="4.65" fill="none" stroke="#555555" stroke-width="1.7"/>
<circle cx="111.40" cy="381.30" r="4.65" fill="none" stroke="#555555" stroke-width="1.7"/>
<circle cx="111.40" cy="384.40" r="4.65" fill="none" stroke="#555555" stroke-width="1.7"/>
<circle cx="111.40" cy="387.50" r="4.65" fill="none" stroke="#555555" stroke-width="1.7"/>
<circle cx="111.40" cy="399.90" r="4.65" fill="none" stroke="#555555" stroke-width="1.7"/>
<circle cx="111.40" cy="324.20" r="4.65" fill="none" stroke="#555555" stroke-width="1.7"/>
<circle cx="111.40" cy="362.50" r="4.65" fill="none" stroke="#555555" stroke-width="1.7"/>
<circle cx="111.40" cy="367.40" r="4.65" fill="none" stroke="#555555" stroke-width="1.7"/>
<circle cx="111.40" cy="370.50" r="4.65" fill="none" stroke="#555555" stroke-width="1.7"/>
<circle cx="111.40" cy="391.00" r="4.65" fill="none" stroke="#555555" stroke-width="1.7"/>
<circle cx="159.60" cy="301.70" r="4.65" fill="none" stroke="#555555" stroke-width="1.7"/>
<circle cx="159.60" cy="336.40" r="4.65" fill="none" stroke="#555555" stroke-width="1.7"/>
<circle cx="159.60" cy="376.00" r="4.65" fill="none" stroke="#555555" stroke-width="1.7"/>
<circle cx="159.60" cy="380.40" r="4.65" fill="none" stroke="#555555" stroke-width="1.7"/>
<circle cx="159.60" cy="396.40" r="4.65" fill="none" stroke="#555555" stroke-width="1.7"/>
<circle cx="159.60" cy="356.00" r="4.65" fill="none" stroke="#555555" stroke-width="1.7"/>
<circle cx="159.60" cy="321.90" r="4.65" fill="none" stroke="#555555" stroke-width="1.7"/>
<circle cx="159.60" cy="367.70" r="4.65" fill="none" stroke="#555555" stroke-width="1.7"/>
<circle cx="159.60" cy="371.90" r="4.65" fill="none" stroke="#555555" stroke-width="1.7"/>
<circle cx="159.60" cy="384.70" r="4.65" fill="none" stroke="#555555" stroke-width="1.7"/>
<text x="185.80" y="296.20" font-size="12.4" text-anchor="start" fill="#000" style="stroke:#000" >(e)</text>
<line x1="229.70" y1="298.15" x2="229.70" y2="518.05" stroke="#000" stroke-width="1.5" />
<line x1="224.40" y1="517.30" x2="229.70" y2="517.30" stroke="#000" stroke-width="1.5" />
<text x="223.00" y="521.70" font-size="12.4" text-anchor="end" fill="#000" style="stroke:#000" >0.00</text>
<line x1="224.40" y1="462.70" x2="229.70" y2="462.70" stroke="#000" stroke-width="1.5" />
<text x="223.00" y="467.10" font-size="12.4" text-anchor="end" fill="#000" style="stroke:#000" >0.04</text>
<line x1="224.40" y1="408.10" x2="229.70" y2="408.10" stroke="#000" stroke-width="1.5" />
<text x="223.00" y="412.50" font-size="12.4" text-anchor="end" fill="#000" style="stroke:#000" >0.08</text>
<line x1="224.40" y1="353.50" x2="229.70" y2="353.50" stroke="#000" stroke-width="1.5" />
<text x="223.00" y="357.90" font-size="12.4" text-anchor="end" fill="#000" style="stroke:#000" >0.12</text>
<line x1="224.40" y1="298.90" x2="229.70" y2="298.90" stroke="#000" stroke-width="1.5" />
<text x="223.00" y="303.30" font-size="12.4" text-anchor="end" fill="#000" style="stroke:#000" >0.16</text>
<line x1="224.40" y1="490.00" x2="229.70" y2="490.00" stroke="#000" stroke-width="1.5" />
<line x1="224.40" y1="435.40" x2="229.70" y2="435.40" stroke="#000" stroke-width="1.5" />
<line x1="224.40" y1="380.80" x2="229.70" y2="380.80" stroke="#000" stroke-width="1.5" />
<line x1="224.40" y1="326.20" x2="229.70" y2="326.20" stroke="#000" stroke-width="1.5" />
<text transform="translate(197.00,408.10) rotate(-90)" font-size="12.45" text-anchor="middle" fill="#000">Median Hand Position Distance (m)</text>
<line x1="243.85" y1="518.00" x2="341.95" y2="518.00" stroke="#000" stroke-width="1.5" />
<line x1="244.60" y1="518.00" x2="244.60" y2="523.30" stroke="#000" stroke-width="1.5" />
<text x="244.60" y="537.00" font-size="12.4" text-anchor="middle" fill="#000" style="stroke:#000" >PC+</text>
<line x1="293.10" y1="518.00" x2="293.10" y2="523.30" stroke="#000" stroke-width="1.5" />
<text x="293.10" y="537.00" font-size="12.4" text-anchor="middle" fill="#000" style="stroke:#000" >C+</text>
<line x1="341.20" y1="518.00" x2="341.20" y2="523.30" stroke="#000" stroke-width="1.5" />
<text x="341.20" y="537.00" font-size="12.4" text-anchor="middle" fill="#000" style="stroke:#000" >PC-</text>
<text x="292.50" y="555.40" font-size="12.4" text-anchor="middle" fill="#000" style="stroke:#000" >Trajectory types</text>
<line x1="244.60" y1="427.90" x2="244.60" y2="440.20" stroke="#6e6e6e" stroke-width="1.6" />
<line x1="237.78" y1="427.90" x2="251.42" y2="427.90" stroke="#6e6e6e" stroke-width="1.6" />
<line x1="244.60" y1="467.40" x2="244.60" y2="473.30" stroke="#6e6e6e" stroke-width="1.6" />
<line x1="237.78" y1="473.30" x2="251.42" y2="473.30" stroke="#6e6e6e" stroke-width="1.6" />
<rect x="232.20" y="440.20" width="24.80" height="27.20" fill="#e4d7fb" stroke="#6e6e6e" stroke-width="1.8"/>
<line x1="232.20" y1="454.40" x2="257.00" y2="454.40" stroke="#6e6e6e" stroke-width="1.6" />
<line x1="293.10" y1="376.80" x2="293.10" y2="394.30" stroke="#6e6e6e" stroke-width="1.6" />
<line x1="286.39" y1="376.80" x2="299.81" y2="376.80" stroke="#6e6e6e" stroke-width="1.6" />
<line x1="293.10" y1="439.20" x2="293.10" y2="451.50" stroke="#6e6e6e" stroke-width="1.6" />
<line x1="286.39" y1="451.50" x2="299.81" y2="451.50" stroke="#6e6e6e" stroke-width="1.6" />
<rect x="280.90" y="394.30" width="24.40" height="44.90" fill="#9494f8" stroke="#6e6e6e" stroke-width="1.8"/>
<line x1="280.90" y1="424.60" x2="305.30" y2="424.60" stroke="#6e6e6e" stroke-width="1.6" />
<line x1="341.20" y1="334.30" x2="341.20" y2="401.40" stroke="#6e6e6e" stroke-width="1.6" />
<line x1="334.44" y1="334.30" x2="347.96" y2="334.30" stroke="#6e6e6e" stroke-width="1.6" />
<line x1="341.20" y1="447.50" x2="341.20" y2="470.40" stroke="#6e6e6e" stroke-width="1.6" />
<line x1="334.44" y1="470.40" x2="347.96" y2="470.40" stroke="#6e6e6e" stroke-width="1.6" />
<rect x="328.90" y="401.40" width="24.60" height="46.10" fill="#b754de" stroke="#6e6e6e" stroke-width="1.8"/>
<line x1="328.90" y1="434.00" x2="353.50" y2="434.00" stroke="#6e6e6e" stroke-width="1.6" />
<line x1="244.60" y1="427.90" x2="293.10" y2="397.40" stroke="#bcbcbc" stroke-width="1.7" />
<line x1="293.10" y1="397.40" x2="341.20" y2="334.30" stroke="#bcbcbc" stroke-width="1.7" />
<line x1="244.60" y1="437.80" x2="293.10" y2="405.70" stroke="#bcbcbc" stroke-width="1.7" />
<line x1="293.10" y1="405.70" x2="341.20" y2="346.50" stroke="#bcbcbc" stroke-width="1.7" />
<line x1="244.60" y1="448.00" x2="293.10" y2="427.00" stroke="#bcbcbc" stroke-width="1.7" />
<line x1="293.10" y1="427.00" x2="341.20" y2="428.10" stroke="#bcbcbc" stroke-width="1.7" />
<line x1="244.60" y1="466.00" x2="293.10" y2="443.50" stroke="#bcbcbc" stroke-width="1.7" />
<line x1="293.10" y1="443.50" x2="341.20" y2="457.90" stroke="#bcbcbc" stroke-width="1.7" />
<line x1="244.60" y1="470.00" x2="293.10" y2="449.40" stroke="#bcbcbc" stroke-width="1.7" />
<line x1="293.10" y1="449.40" x2="341.20" y2="463.80" stroke="#bcbcbc" stroke-width="1.7" />
<line x1="244.60" y1="473.30" x2="293.10" y2="451.50" stroke="#bcbcbc" stroke-width="1.7" />
<line x1="293.10" y1="451.50" x2="341.20" y2="470.40" stroke="#bcbcbc" stroke-width="1.7" />
<line x1="244.60" y1="443.00" x2="293.10" y2="376.10" stroke="#a6a6a6" stroke-width="1.2" stroke-dasharray="1.2 3.4"/>
<line x1="293.10" y1="376.10" x2="341.20" y2="367.40" stroke="#a6a6a6" stroke-width="1.2" stroke-dasharray="1.2 3.4"/>
<line x1="244.60" y1="453.00" x2="293.10" y2="386.70" stroke="#a6a6a6" stroke-width="1.2" stroke-dasharray="1.2 3.4"/>
<line x1="293.10" y1="386.70" x2="341.20" y2="411.60" stroke="#a6a6a6" stroke-width="1.2" stroke-dasharray="1.2 3.4"/>
<line x1="244.60" y1="457.50" x2="293.10" y2="419.40" stroke="#a6a6a6" stroke-width="1.2" stroke-dasharray="1.2 3.4"/>
<line x1="293.10" y1="419.40" x2="341.20" y2="418.70" stroke="#a6a6a6" stroke-width="1.2" stroke-dasharray="1.2 3.4"/>
<line x1="244.60" y1="462.00" x2="293.10" y2="431.00" stroke="#a6a6a6" stroke-width="1.2" stroke-dasharray="1.2 3.4"/>
<line x1="293.10" y1="431.00" x2="341.20" y2="434.00" stroke="#a6a6a6" stroke-width="1.2" stroke-dasharray="1.2 3.4"/>
<line x1="244.60" y1="450.00" x2="293.10" y2="436.00" stroke="#a6a6a6" stroke-width="1.2" stroke-dasharray="1.2 3.4"/>
<line x1="293.10" y1="436.00" x2="341.20" y2="438.70" stroke="#a6a6a6" stroke-width="1.2" stroke-dasharray="1.2 3.4"/>
<line x1="244.60" y1="440.00" x2="293.10" y2="380.00" stroke="#a6a6a6" stroke-width="1.2" stroke-dasharray="1.2 3.4"/>
<line x1="293.10" y1="380.00" x2="341.20" y2="405.00" stroke="#a6a6a6" stroke-width="1.2" stroke-dasharray="1.2 3.4"/>
<line x1="244.60" y1="445.00" x2="293.10" y2="392.00" stroke="#a6a6a6" stroke-width="1.2" stroke-dasharray="1.2 3.4"/>
<line x1="293.10" y1="392.00" x2="341.20" y2="375.00" stroke="#a6a6a6" stroke-width="1.2" stroke-dasharray="1.2 3.4"/>
<circle cx="244.60" cy="427.90" r="4.65" fill="none" stroke="#555555" stroke-width="1.7"/>
<circle cx="244.60" cy="437.80" r="4.65" fill="none" stroke="#555555" stroke-width="1.7"/>
<circle cx="244.60" cy="448.00" r="4.65" fill="none" stroke="#555555" stroke-width="1.7"/>
<circle cx="244.60" cy="466.00" r="4.65" fill="none" stroke="#555555" stroke-width="1.7"/>
<circle cx="244.60" cy="470.00" r="4.65" fill="none" stroke="#555555" stroke-width="1.7"/>
<circle cx="244.60" cy="473.30" r="4.65" fill="none" stroke="#555555" stroke-width="1.7"/>
<circle cx="244.60" cy="443.00" r="4.65" fill="none" stroke="#555555" stroke-width="1.7"/>
<circle cx="244.60" cy="453.00" r="4.65" fill="none" stroke="#555555" stroke-width="1.7"/>
<circle cx="244.60" cy="457.50" r="4.65" fill="none" stroke="#555555" stroke-width="1.7"/>
<circle cx="244.60" cy="462.00" r="4.65" fill="none" stroke="#555555" stroke-width="1.7"/>
<circle cx="244.60" cy="450.00" r="4.65" fill="none" stroke="#555555" stroke-width="1.7"/>
<circle cx="244.60" cy="440.00" r="4.65" fill="none" stroke="#555555" stroke-width="1.7"/>
<circle cx="244.60" cy="445.00" r="4.65" fill="none" stroke="#555555" stroke-width="1.7"/>
<circle cx="293.10" cy="397.40" r="4.65" fill="none" stroke="#555555" stroke-width="1.7"/>
<circle cx="293.10" cy="405.70" r="4.65" fill="none" stroke="#555555" stroke-width="1.7"/>
<circle cx="293.10" cy="427.00" r="4.65" fill="none" stroke="#555555" stroke-width="1.7"/>
<circle cx="293.10" cy="443.50" r="4.65" fill="none" stroke="#555555" stroke-width="1.7"/>
<circle cx="293.10" cy="449.40" r="4.65" fill="none" stroke="#555555" stroke-width="1.7"/>
<circle cx="293.10" cy="451.50" r="4.65" fill="none" stroke="#555555" stroke-width="1.7"/>
<circle cx="293.10" cy="376.10" r="4.65" fill="none" stroke="#555555" stroke-width="1.7"/>
<circle cx="293.10" cy="386.70" r="4.65" fill="none" stroke="#555555" stroke-width="1.7"/>
<circle cx="293.10" cy="419.40" r="4.65" fill="none" stroke="#555555" stroke-width="1.7"/>
<circle cx="293.10" cy="431.00" r="4.65" fill="none" stroke="#555555" stroke-width="1.7"/>
<circle cx="293.10" cy="436.00" r="4.65" fill="none" stroke="#555555" stroke-width="1.7"/>
<circle cx="293.10" cy="380.00" r="4.65" fill="none" stroke="#555555" stroke-width="1.7"/>
<circle cx="293.10" cy="392.00" r="4.65" fill="none" stroke="#555555" stroke-width="1.7"/>
<circle cx="341.20" cy="334.30" r="4.65" fill="none" stroke="#555555" stroke-width="1.7"/>
<circle cx="341.20" cy="346.50" r="4.65" fill="none" stroke="#555555" stroke-width="1.7"/>
<circle cx="341.20" cy="428.10" r="4.65" fill="none" stroke="#555555" stroke-width="1.7"/>
<circle cx="341.20" cy="457.90" r="4.65" fill="none" stroke="#555555" stroke-width="1.7"/>
<circle cx="341.20" cy="463.80" r="4.65" fill="none" stroke="#555555" stroke-width="1.7"/>
<circle cx="341.20" cy="470.40" r="4.65" fill="none" stroke="#555555" stroke-width="1.7"/>
<circle cx="341.20" cy="367.40" r="4.65" fill="none" stroke="#555555" stroke-width="1.7"/>
<circle cx="341.20" cy="411.60" r="4.65" fill="none" stroke="#555555" stroke-width="1.7"/>
<circle cx="341.20" cy="418.70" r="4.65" fill="none" stroke="#555555" stroke-width="1.7"/>
<circle cx="341.20" cy="434.00" r="4.65" fill="none" stroke="#555555" stroke-width="1.7"/>
<circle cx="341.20" cy="438.70" r="4.65" fill="none" stroke="#555555" stroke-width="1.7"/>
<circle cx="341.20" cy="405.00" r="4.65" fill="none" stroke="#555555" stroke-width="1.7"/>
<circle cx="341.20" cy="375.00" r="4.65" fill="none" stroke="#555555" stroke-width="1.7"/>
<line x1="244.20" y1="304.80" x2="293.90" y2="304.80" stroke="#000" stroke-width="1.7" />
<line x1="266.10" y1="296.40" x2="266.10" y2="301.60" stroke="#5e5e5e" stroke-width="1.3" />
<line x1="263.85" y1="297.70" x2="268.35" y2="300.30" stroke="#5e5e5e" stroke-width="1.3" />
<line x1="268.35" y1="297.70" x2="263.85" y2="300.30" stroke="#5e5e5e" stroke-width="1.3" />
<line x1="271.90" y1="296.40" x2="271.90" y2="301.60" stroke="#5e5e5e" stroke-width="1.3" />
<line x1="269.65" y1="297.70" x2="274.15" y2="300.30" stroke="#5e5e5e" stroke-width="1.3" />
<line x1="274.15" y1="297.70" x2="269.65" y2="300.30" stroke="#5e5e5e" stroke-width="1.3" />
<line x1="244.20" y1="317.90" x2="342.40" y2="317.90" stroke="#000" stroke-width="1.7" />
<line x1="293.00" y1="309.20" x2="293.00" y2="314.40" stroke="#5e5e5e" stroke-width="1.3" />
<line x1="290.75" y1="310.50" x2="295.25" y2="313.10" stroke="#5e5e5e" stroke-width="1.3" />
<line x1="295.25" y1="310.50" x2="290.75" y2="313.10" stroke="#5e5e5e" stroke-width="1.3" />
<text x="375.30" y="296.20" font-size="12.4" text-anchor="start" fill="#000" style="stroke:#000" >(f)</text>
<line x1="405.70" y1="298.15" x2="405.70" y2="518.05" stroke="#000" stroke-width="1.5" />
<line x1="400.40" y1="517.30" x2="405.70" y2="517.30" stroke="#000" stroke-width="1.5" />
<text x="399.50" y="521.70" font-size="12.4" text-anchor="end" fill="#000" style="stroke:#000" >0</text>
<line x1="400.40" y1="473.62" x2="405.70" y2="473.62" stroke="#000" stroke-width="1.5" />
<text x="399.50" y="478.02" font-size="12.4" text-anchor="end" fill="#000" style="stroke:#000" >5</text>
<line x1="400.40" y1="429.94" x2="405.70" y2="429.94" stroke="#000" stroke-width="1.5" />
<text x="399.50" y="434.34" font-size="12.4" text-anchor="end" fill="#000" style="stroke:#000" >10</text>
<line x1="400.40" y1="386.26" x2="405.70" y2="386.26" stroke="#000" stroke-width="1.5" />
<text x="399.50" y="390.66" font-size="12.4" text-anchor="end" fill="#000" style="stroke:#000" >15</text>
<line x1="400.40" y1="342.58" x2="405.70" y2="342.58" stroke="#000" stroke-width="1.5" />
<text x="399.50" y="346.98" font-size="12.4" text-anchor="end" fill="#000" style="stroke:#000" >20</text>
<line x1="400.40" y1="298.90" x2="405.70" y2="298.90" stroke="#000" stroke-width="1.5" />
<text x="399.50" y="303.30" font-size="12.4" text-anchor="end" fill="#000" style="stroke:#000" >25</text>
<text transform="translate(385.00,407.90) rotate(-90)" font-size="12.45" text-anchor="middle" fill="#000">Median Hand Orientation Distance (°)</text>
<line x1="420.25" y1="517.70" x2="518.65" y2="517.70" stroke="#000" stroke-width="1.5" />
<line x1="421.00" y1="517.70" x2="421.00" y2="523.00" stroke="#000" stroke-width="1.5" />
<text x="421.00" y="537.00" font-size="12.4" text-anchor="middle" fill="#000" style="stroke:#000" >PC+</text>
<line x1="469.10" y1="517.70" x2="469.10" y2="523.00" stroke="#000" stroke-width="1.5" />
<text x="469.10" y="537.00" font-size="12.4" text-anchor="middle" fill="#000" style="stroke:#000" >C+</text>
<line x1="517.90" y1="517.70" x2="517.90" y2="523.00" stroke="#000" stroke-width="1.5" />
<text x="517.90" y="537.00" font-size="12.4" text-anchor="middle" fill="#000" style="stroke:#000" >PC-</text>
<text x="469.50" y="555.40" font-size="12.4" text-anchor="middle" fill="#000" style="stroke:#000" >Trajectory types</text>
<line x1="421.00" y1="391.40" x2="421.00" y2="408.60" stroke="#6e6e6e" stroke-width="1.6" />
<line x1="414.21" y1="391.40" x2="427.79" y2="391.40" stroke="#6e6e6e" stroke-width="1.6" />
<line x1="421.00" y1="427.20" x2="421.00" y2="441.90" stroke="#6e6e6e" stroke-width="1.6" />
<line x1="414.21" y1="441.90" x2="427.79" y2="441.90" stroke="#6e6e6e" stroke-width="1.6" />
<rect x="408.65" y="408.60" width="24.70" height="18.60" fill="#e4d7fb" stroke="#6e6e6e" stroke-width="1.8"/>
<line x1="408.65" y1="416.40" x2="433.35" y2="416.40" stroke="#6e6e6e" stroke-width="1.6" />
<line x1="469.10" y1="383.00" x2="469.10" y2="394.40" stroke="#6e6e6e" stroke-width="1.6" />
<line x1="462.50" y1="383.00" x2="475.70" y2="383.00" stroke="#6e6e6e" stroke-width="1.6" />
<line x1="469.10" y1="418.20" x2="469.10" y2="435.70" stroke="#6e6e6e" stroke-width="1.6" />
<line x1="462.50" y1="435.70" x2="475.70" y2="435.70" stroke="#6e6e6e" stroke-width="1.6" />
<rect x="457.10" y="394.40" width="24.00" height="23.80" fill="#9494f8" stroke="#6e6e6e" stroke-width="1.8"/>
<line x1="457.10" y1="406.30" x2="481.10" y2="406.30" stroke="#6e6e6e" stroke-width="1.6" />
<line x1="517.90" y1="327.10" x2="517.90" y2="362.60" stroke="#6e6e6e" stroke-width="1.6" />
<line x1="511.08" y1="327.10" x2="524.72" y2="327.10" stroke="#6e6e6e" stroke-width="1.6" />
<line x1="517.90" y1="407.00" x2="517.90" y2="435.40" stroke="#6e6e6e" stroke-width="1.6" />
<line x1="511.08" y1="435.40" x2="524.72" y2="435.40" stroke="#6e6e6e" stroke-width="1.6" />
<rect x="505.50" y="362.60" width="24.80" height="44.40" fill="#b754de" stroke="#6e6e6e" stroke-width="1.8"/>
<line x1="505.50" y1="390.40" x2="530.30" y2="390.40" stroke="#6e6e6e" stroke-width="1.6" />
<line x1="421.00" y1="390.90" x2="469.10" y2="405.50" stroke="#bcbcbc" stroke-width="1.7" />
<line x1="469.10" y1="405.50" x2="517.90" y2="379.10" stroke="#bcbcbc" stroke-width="1.7" />
<line x1="421.00" y1="397.80" x2="469.10" y2="382.40" stroke="#bcbcbc" stroke-width="1.7" />
<line x1="469.10" y1="382.40" x2="517.90" y2="343.60" stroke="#bcbcbc" stroke-width="1.7" />
<line x1="421.00" y1="401.70" x2="469.10" y2="388.50" stroke="#a6a6a6" stroke-width="1.2" stroke-dasharray="1.2 3.4"/>
<line x1="469.10" y1="388.50" x2="517.90" y2="327.10" stroke="#a6a6a6" stroke-width="1.2" stroke-dasharray="1.2 3.4"/>
<line x1="421.00" y1="405.00" x2="469.10" y2="385.50" stroke="#a6a6a6" stroke-width="1.2" stroke-dasharray="1.2 3.4"/>
<line x1="469.10" y1="385.50" x2="517.90" y2="359.00" stroke="#a6a6a6" stroke-width="1.2" stroke-dasharray="1.2 3.4"/>
<line x1="421.00" y1="411.00" x2="469.10" y2="411.70" stroke="#bcbcbc" stroke-width="1.7" />
<line x1="469.10" y1="411.70" x2="517.90" y2="395.60" stroke="#bcbcbc" stroke-width="1.7" />
<line x1="421.00" y1="414.00" x2="469.10" y2="402.50" stroke="#a6a6a6" stroke-width="1.2" stroke-dasharray="1.2 3.4"/>
<line x1="469.10" y1="402.50" x2="517.90" y2="383.50" stroke="#a6a6a6" stroke-width="1.2" stroke-dasharray="1.2 3.4"/>
<line x1="421.00" y1="417.10" x2="469.10" y2="408.60" stroke="#a6a6a6" stroke-width="1.2" stroke-dasharray="1.2 3.4"/>
<line x1="469.10" y1="408.60" x2="517.90" y2="400.00" stroke="#a6a6a6" stroke-width="1.2" stroke-dasharray="1.2 3.4"/>
<line x1="421.00" y1="428.00" x2="469.10" y2="428.00" stroke="#bcbcbc" stroke-width="1.7" />
<line x1="469.10" y1="428.00" x2="517.90" y2="408.70" stroke="#bcbcbc" stroke-width="1.7" />
<line x1="421.00" y1="431.00" x2="469.10" y2="414.80" stroke="#a6a6a6" stroke-width="1.2" stroke-dasharray="1.2 3.4"/>
<line x1="469.10" y1="414.80" x2="517.90" y2="425.20" stroke="#a6a6a6" stroke-width="1.2" stroke-dasharray="1.2 3.4"/>
<line x1="421.00" y1="441.90" x2="469.10" y2="435.70" stroke="#bcbcbc" stroke-width="1.7" />
<line x1="469.10" y1="435.70" x2="517.90" y2="435.40" stroke="#bcbcbc" stroke-width="1.7" />
<line x1="421.00" y1="405.00" x2="469.10" y2="395.00" stroke="#a6a6a6" stroke-width="1.2" stroke-dasharray="1.2 3.4"/>
<line x1="469.10" y1="395.00" x2="517.90" y2="365.00" stroke="#a6a6a6" stroke-width="1.2" stroke-dasharray="1.2 3.4"/>
<line x1="421.00" y1="409.00" x2="469.10" y2="398.00" stroke="#a6a6a6" stroke-width="1.2" stroke-dasharray="1.2 3.4"/>
<line x1="469.10" y1="398.00" x2="517.90" y2="390.00" stroke="#a6a6a6" stroke-width="1.2" stroke-dasharray="1.2 3.4"/>
<circle cx="421.00" cy="390.90" r="4.65" fill="none" stroke="#555555" stroke-width="1.7"/>
<circle cx="421.00" cy="397.80" r="4.65" fill="none" stroke="#555555" stroke-width="1.7"/>
<circle cx="421.00" cy="401.70" r="4.65" fill="none" stroke="#555555" stroke-width="1.7"/>
<circle cx="421.00" cy="405.00" r="4.65" fill="none" stroke="#555555" stroke-width="1.7"/>
<circle cx="421.00" cy="411.00" r="4.65" fill="none" stroke="#555555" stroke-width="1.7"/>
<circle cx="421.00" cy="414.00" r="4.65" fill="none" stroke="#555555" stroke-width="1.7"/>
<circle cx="421.00" cy="417.10" r="4.65" fill="none" stroke="#555555" stroke-width="1.7"/>
<circle cx="421.00" cy="428.00" r="4.65" fill="none" stroke="#555555" stroke-width="1.7"/>
<circle cx="421.00" cy="431.00" r="4.65" fill="none" stroke="#555555" stroke-width="1.7"/>
<circle cx="421.00" cy="441.90" r="4.65" fill="none" stroke="#555555" stroke-width="1.7"/>
<circle cx="421.00" cy="405.00" r="4.65" fill="none" stroke="#555555" stroke-width="1.7"/>
<circle cx="421.00" cy="409.00" r="4.65" fill="none" stroke="#555555" stroke-width="1.7"/>
<circle cx="469.10" cy="405.50" r="4.65" fill="none" stroke="#555555" stroke-width="1.7"/>
<circle cx="469.10" cy="382.40" r="4.65" fill="none" stroke="#555555" stroke-width="1.7"/>
<circle cx="469.10" cy="388.50" r="4.65" fill="none" stroke="#555555" stroke-width="1.7"/>
<circle cx="469.10" cy="385.50" r="4.65" fill="none" stroke="#555555" stroke-width="1.7"/>
<circle cx="469.10" cy="411.70" r="4.65" fill="none" stroke="#555555" stroke-width="1.7"/>
<circle cx="469.10" cy="402.50" r="4.65" fill="none" stroke="#555555" stroke-width="1.7"/>
<circle cx="469.10" cy="408.60" r="4.65" fill="none" stroke="#555555" stroke-width="1.7"/>
<circle cx="469.10" cy="428.00" r="4.65" fill="none" stroke="#555555" stroke-width="1.7"/>
<circle cx="469.10" cy="414.80" r="4.65" fill="none" stroke="#555555" stroke-width="1.7"/>
<circle cx="469.10" cy="435.70" r="4.65" fill="none" stroke="#555555" stroke-width="1.7"/>
<circle cx="469.10" cy="395.00" r="4.65" fill="none" stroke="#555555" stroke-width="1.7"/>
<circle cx="469.10" cy="398.00" r="4.65" fill="none" stroke="#555555" stroke-width="1.7"/>
<circle cx="517.90" cy="379.10" r="4.65" fill="none" stroke="#555555" stroke-width="1.7"/>
<circle cx="517.90" cy="343.60" r="4.65" fill="none" stroke="#555555" stroke-width="1.7"/>
<circle cx="517.90" cy="327.10" r="4.65" fill="none" stroke="#555555" stroke-width="1.7"/>
<circle cx="517.90" cy="359.00" r="4.65" fill="none" stroke="#555555" stroke-width="1.7"/>
<circle cx="517.90" cy="395.60" r="4.65" fill="none" stroke="#555555" stroke-width="1.7"/>
<circle cx="517.90" cy="383.50" r="4.65" fill="none" stroke="#555555" stroke-width="1.7"/>
<circle cx="517.90" cy="400.00" r="4.65" fill="none" stroke="#555555" stroke-width="1.7"/>
<circle cx="517.90" cy="408.70" r="4.65" fill="none" stroke="#555555" stroke-width="1.7"/>
<circle cx="517.90" cy="425.20" r="4.65" fill="none" stroke="#555555" stroke-width="1.7"/>
<circle cx="517.90" cy="435.40" r="4.65" fill="none" stroke="#555555" stroke-width="1.7"/>
<circle cx="517.90" cy="365.00" r="4.65" fill="none" stroke="#555555" stroke-width="1.7"/>
<circle cx="517.90" cy="390.00" r="4.65" fill="none" stroke="#555555" stroke-width="1.7"/>
<line x1="420.50" y1="317.90" x2="518.40" y2="317.90" stroke="#000" stroke-width="1.7" />
<line x1="466.60" y1="309.20" x2="466.60" y2="314.40" stroke="#5e5e5e" stroke-width="1.3" />
<line x1="464.35" y1="310.50" x2="468.85" y2="313.10" stroke="#5e5e5e" stroke-width="1.3" />
<line x1="468.85" y1="310.50" x2="464.35" y2="313.10" stroke="#5e5e5e" stroke-width="1.3" />
<line x1="472.40" y1="309.20" x2="472.40" y2="314.40" stroke="#5e5e5e" stroke-width="1.3" />
<line x1="470.15" y1="310.50" x2="474.65" y2="313.10" stroke="#5e5e5e" stroke-width="1.3" />
<line x1="474.65" y1="310.50" x2="470.15" y2="313.10" stroke="#5e5e5e" stroke-width="1.3" />
</svg></body></html>
